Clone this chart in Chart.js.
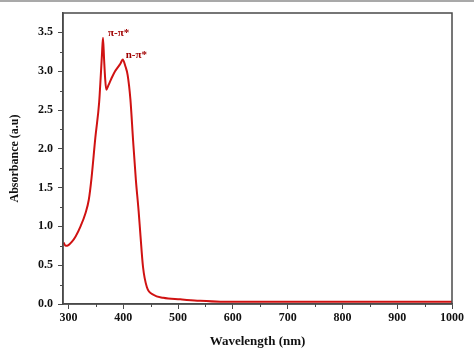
<!DOCTYPE html>
<html>
<head>
<meta charset="utf-8">
<script src="https://cdn.jsdelivr.net/npm/chart.js@4/dist/chart.umd.min.js"></script>
<style>
  html, body { margin: 0; padding: 0; background: #fff; }
  #wrap { width: 474px; height: 364px; position: relative; }
</style>
</head>
<body>
<div id="wrap"><canvas id="uvChart" width="474" height="364"></canvas></div>
<script>
"use strict"

// spectrum
const wavelengths = [291, 295, 300, 306, 313, 322, 331, 337, 342, 349, 356, 359, 361, 363, 365, 367, 369, 373, 378, 385, 390, 395, 399, 404, 408, 413, 418, 423, 428, 431, 436, 443, 455, 473, 504, 535, 577, 700, 800, 900, 1000];
const absorbance = [0.79, 0.75, 0.76, 0.80, 0.87, 1.00, 1.17, 1.34, 1.62, 2.14, 2.60, 2.95, 3.20, 3.43, 3.15, 2.90, 2.76, 2.82, 2.90, 3.00, 3.05, 3.10, 3.15, 3.06, 2.95, 2.64, 2.10, 1.60, 1.20, 0.92, 0.48, 0.22, 0.12, 0.08, 0.06, 0.043, 0.03, 0.03, 0.03, 0.03, 0.03];

const xTicks = [300, 400, 500, 600, 700, 800, 900, 1000];
const yTicks = [0, 0.5, 1.0, 1.5, 2.0, 2.5, 3.0, 3.5];

const peakLabels = ['π-π*', 'n-π*'];
const peakAt = [[363, 3.43], [399, 3.15]];

const ctx = document.getElementById('uvChart');

// frame, minor ticks, top gray strip, peak labels
const decorPlugin = {
    id: 'decor',
    beforeDraw(chart) {
        const c = chart.ctx;
        c.save();
        c.fillStyle = '#fff';
        c.fillRect(0, 0, chart.width, chart.height);
        c.fillStyle = '#a9a9a9';
        c.fillRect(0, 0, chart.width, 2);
        c.restore();
    },
    afterDraw(chart) {
        const c = chart.ctx;
        const a = chart.chartArea;
        const xs = chart.scales.x;
        const ys = chart.scales.y;
        c.save();
        c.strokeStyle = '#4a4a4a';
        c.lineWidth = 1.5;
        c.strokeRect(a.left, a.top, a.right - a.left, a.bottom - a.top);

        c.lineWidth = 1;
        c.beginPath();
        for (let v = 350; v < 1000; v += 100) {
            const px = Math.round(xs.getPixelForValue(v)) + 0.5;
            c.moveTo(px, a.bottom);
            c.lineTo(px, a.bottom + 3);
        }
        for (let v = 0.25; v < 3.75; v += 0.5) {
            const py = Math.round(ys.getPixelForValue(v)) + 0.5;
            c.moveTo(a.left, py);
            c.lineTo(a.left - 3, py);
        }
        c.stroke();

        c.fillStyle = '#a00000';
        c.font = 'bold 11px "Liberation Serif"';
        c.textBaseline = 'middle';
        c.fillText(peakLabels[0], xs.getPixelForValue(peakAt[0][0]) + 5, ys.getPixelForValue(peakAt[0][1]) - 5);
        c.fillText(peakLabels[1], xs.getPixelForValue(peakAt[1][0]) + 3, ys.getPixelForValue(peakAt[1][1]) - 4);
        c.restore();
    }
};

const uvChart = new Chart(ctx, {
    type: 'line',
    data: {
        datasets: [{
            data: wavelengths.map((w, i) => ({ x: w, y: absorbance[i] })),
            borderColor: '#d01212',
            borderWidth: 2,
            pointRadius: 0,
            fill: false,
            cubicInterpolationMode: 'monotone'
        }]
    },
    options: {
        responsive: false,
        animation: false,
        layout: { padding: { top: 13, right: 22, bottom: 0, left: 0 } },
        plugins: {
            legend: { display: false },
            tooltip: { enabled: false }
        },
        scales: {
            x: {
                type: 'linear',
                min: 290,
                max: 1000,
                afterBuildTicks: scale => { scale.ticks = xTicks.map(v => ({ value: v })); },
                afterFit: scale => { scale.height = 60; },
                border: { display: true, color: '#4a4a4a', width: 1.5 },
                grid: { display: true, drawOnChartArea: false, drawTicks: true, tickLength: 5, tickColor: '#4a4a4a' },
                ticks: {
                    color: '#111',
                    padding: 2,
                    maxRotation: 0,
                    callback: v => String(v),
                    font: { family: 'Liberation Serif', size: 12, weight: 'bold' }
                },
                title: {
                    display: true,
                    text: 'Wavelength (nm)',
                    color: '#111',
                    padding: { top: 4, bottom: 15 },
                    font: { family: 'Liberation Serif', size: 13, weight: 'bold' }
                }
            },
            y: {
                min: 0,
                max: 3.75,
                afterBuildTicks: scale => { scale.ticks = yTicks.map(v => ({ value: v })); },
                afterFit: scale => { scale.width = 63; },
                border: { display: true, color: '#4a4a4a', width: 1.5 },
                grid: { display: true, drawOnChartArea: false, drawTicks: true, tickLength: 5, tickColor: '#4a4a4a' },
                ticks: {
                    color: '#111',
                    padding: 5,
                    callback: v => v.toFixed(1),
                    font: { family: 'Liberation Serif', size: 12, weight: 'bold' }
                },
                title: {
                    display: true,
                    text: 'Absorbance (a.u)',
                    color: '#111',
                    padding: { top: 8, bottom: 2 },
                    font: { family: 'Liberation Serif', size: 12, weight: 'bold' }
                }
            }
        }
    },
    plugins: [decorPlugin]
});
</script>
</body>
</html>
